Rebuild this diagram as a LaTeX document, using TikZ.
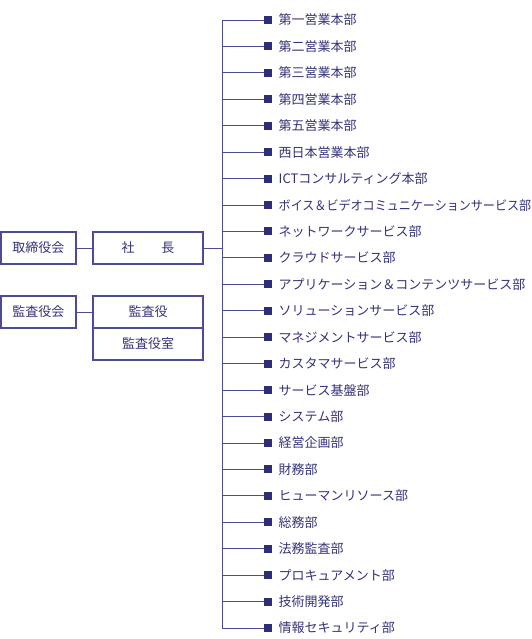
\documentclass[tikz,border=0pt]{standalone}
\usepackage{graphicx}
\usepackage{fontspec}
\setmainfont{Noto Sans CJK JP}
\definecolor{linec}{RGB}{75,75,150}
\definecolor{textc}{RGB}{50,50,120}
\definecolor{sqc}{RGB}{45,45,120}
\begin{document}
\begin{tikzpicture}[x=1pt,y=-1pt,
  box/.style={draw=linec,line width=1.2pt,minimum height=32pt,inner sep=0pt,text=textc,font=\fontsize{13}{15}\selectfont},
  conn/.style={draw=linec,line width=0.9pt},
  sq/.style={fill=sqc,minimum size=8pt,inner sep=0pt},
  item/.style={text=textc,font=\fontsize{13}{15}\selectfont,anchor=west,inner sep=0pt}]
\useasboundingbox (0,0) rectangle (532,639);
% left boxes
\node[box,minimum width=75pt] (tori) at (38.5,248) {取締役会};
\node[box,minimum width=110pt] (shacho) at (148,248) {社\hspace{27pt}長};
\node[box,minimum width=75pt] (kansakai) at (38.5,312) {監査役会};
\node[box,minimum width=110pt] (kansayaku) at (148,312) {監査役};
\node[box,minimum width=110pt] (kansashitsu) at (148,344) {監査役室};
\draw[conn] (tori.east) -- (shacho.west);
\draw[conn] (kansakai.east) -- (kansayaku.west);
\coordinate (top) at (222,20);
\coordinate (bot) at (222,628);
\coordinate (mid) at (222,248);
\draw[conn] (shacho.east) -- (mid);
\draw[conn] (top) -- (bot);
\foreach \t [count=\i from 0] in {第一営業本部,第二営業本部,第三営業本部,第四営業本部,第五営業本部,西日本営業本部,ICTコンサルティング本部,{\scalebox{0.927}[1]{ボイス＆ビデオコミュニケーションサービス部}},ネットワークサービス部,クラウドサービス部,アプリケーション＆コンテンツサービス部,ソリューションサービス部,マネジメントサービス部,カスタマサービス部,サービス基盤部,システム部,経営企画部,財務部,ヒューマンリソース部,総務部,法務監査部,プロキュアメント部,技術開発部,情報セキュリティ部}{
  \pgfmathsetmacro{\yy}{20+\i*26.435}
  \coordinate (b\i) at (222,\yy);
  \node[sq] (s\i) at (268,\yy) {};
  \node[item] (t\i) at (278.5,\yy) {\t};
  \draw[conn] (b\i) -- (s\i.west);
}
\end{tikzpicture}
\end{document}
